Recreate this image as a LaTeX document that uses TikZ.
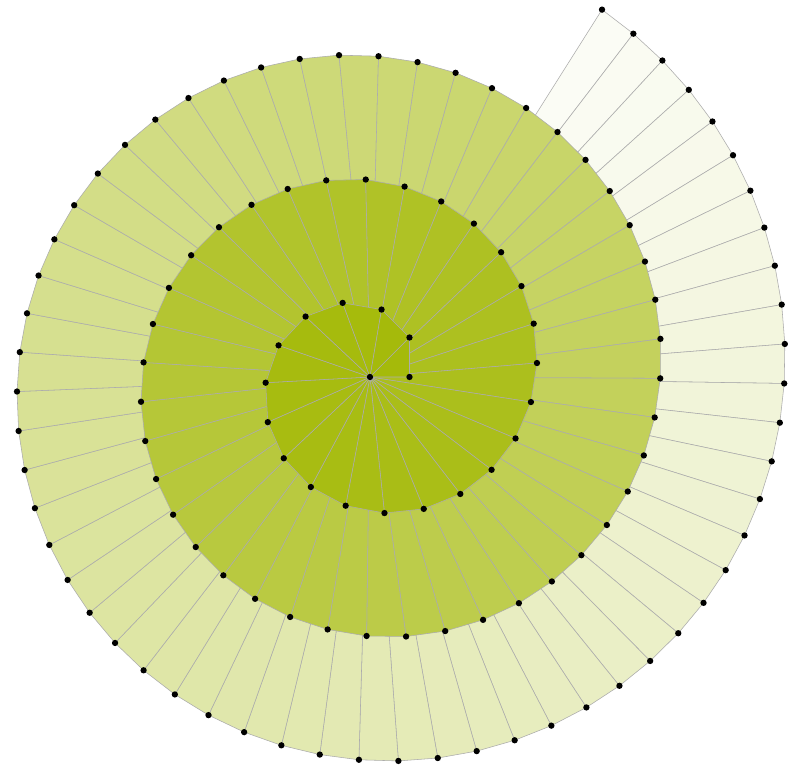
\documentclass[tikz,border=0pt]{standalone}
\definecolor{shellgreen}{RGB}{165,186,10}
\tikzset{
  wedge/.style={draw=gray!65,line width=0.4pt,line join=round},
  spot/.style={fill=black}
}
\begin{document}
\begin{tikzpicture}
\fill[white] (-9.367,-9.924) rectangle (10.709,9.544);
\useasboundingbox (-9.367,-9.924) rectangle (10.709,9.544);
\coordinate (o) at (0,0);
% points of the spiral
\xdef\ang{0}
\foreach \n in {1,...,121}{
  \coordinate (p\n) at (\ang:{sqrt(\n)});
  \pgfmathparse{\ang+atan(1/sqrt(\n))}
  \xdef\ang{\pgfmathresult}
}
% outer turns first, inner turns on top
\foreach \n [evaluate=\n as \m using int(\n+1),
  evaluate=\n as \pct using {100*(1-(\n/124)^1.3)}] in {120,119,...,1}
  \filldraw[wedge,fill=shellgreen!\pct!white] (o) -- (p\n) -- (p\m) -- cycle;
\foreach \n in {1,...,121}
  \fill[spot] (p\n) circle (0.08);
\fill[spot] (o) circle (0.08);
\end{tikzpicture}
\end{document}
